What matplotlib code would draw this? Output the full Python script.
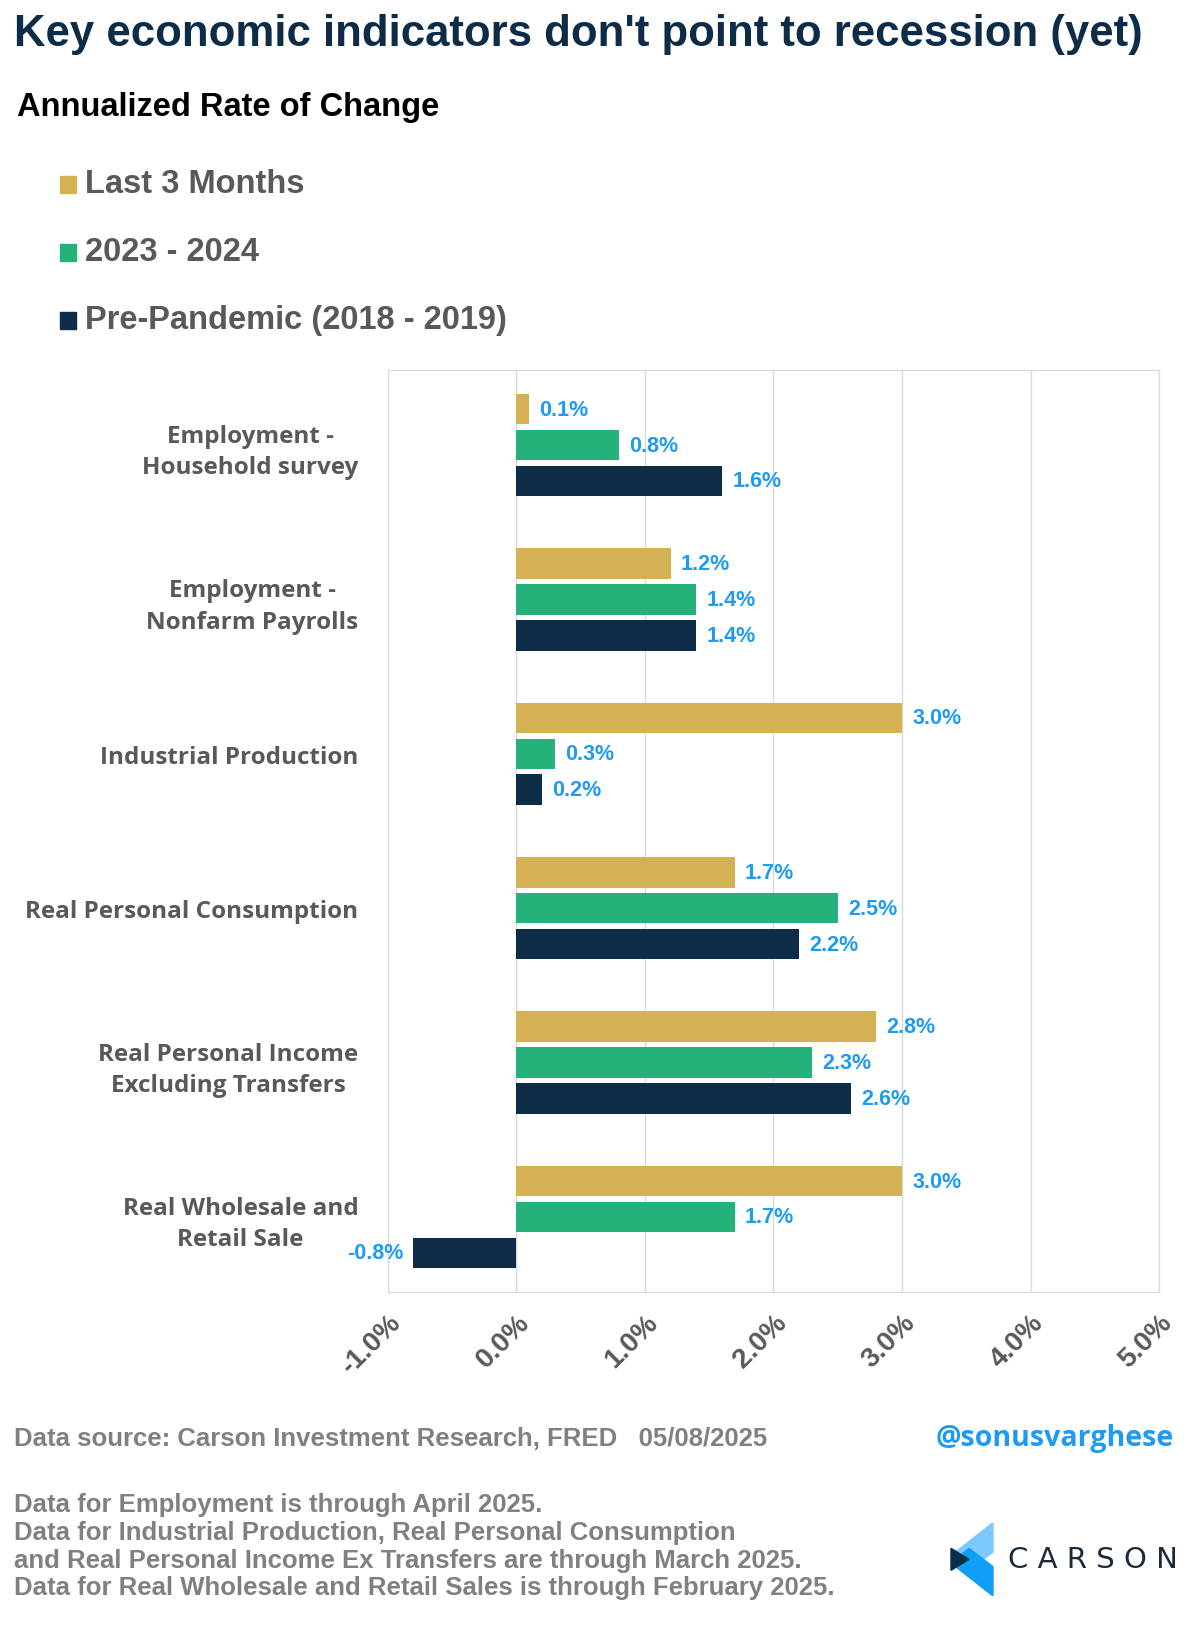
import matplotlib.pyplot as plt
from matplotlib.patches import Polygon
import numpy as np

categories = ["Employment -\nHousehold survey", "Employment -\nNonfarm Payrolls", "Industrial Production",
              "Real Personal Consumption", "Real Personal Income\nExcluding Transfers",
              "Real Wholesale and\nRetail Sale"]
last_3m = [0.1, 1.2, 3.0, 1.7, 2.8, 3.0]
y2023_24 = [0.8, 1.4, 0.3, 2.5, 2.3, 1.7]
pre_pandemic = [1.6, 1.4, 0.2, 2.2, 2.6, -0.8]
series_names = ["Last 3 Months", "2023 - 2024", "Pre-Pandemic (2018 - 2019)"]
xticks = [-1, 0, 1, 2, 3, 4, 5]

colors = ["#D4B254", "#25B27A", "#0D2C47"]
navy = "#0D2C47"
gray = "#595959"
blue = "#1E9BF0"
sans = "Liberation Sans"

fig = plt.figure(figsize=(12, 16.33), dpi=100)
ax = fig.add_axes([0.323, 0.208, 0.643, 0.565])

gap = 4.3
centers = np.arange(len(categories)) * gap
for k, vals in enumerate([last_3m, y2023_24, pre_pandemic]):
    ys = centers + (k - 1)
    ax.barh(ys, vals, height=0.85, color=colors[k], zorder=3)
    for y, v in zip(ys, vals):
        if v >= 0:
            ax.text(v + 0.08, y, f"{v:.1f}%", va="center", ha="left", color=blue,
                    fontsize=15.5, fontweight="bold", family=sans)
        else:
            ax.text(v - 0.08, y, f"{v:.1f}%", va="center", ha="right", color=blue,
                    fontsize=15.5, fontweight="bold", family=sans)

ax.set_xlim(-1, 5)
ax.set_ylim(centers[-1] + 2.1, centers[0] - 2.1)
ax.set_xticks(xticks)
ax.set_xticklabels([f"{t:.1f}%" for t in xticks], rotation=45, ha="right", rotation_mode="anchor",
                   fontsize=20, fontweight="bold", color=gray, family=sans)
ax.set_yticks(centers)
ax.set_yticklabels(categories, fontsize=17.5, fontweight="bold", color=gray, family="Open Sans",
                   ha="right", multialignment="center", linespacing=1.4)
ax.tick_params(axis="y", length=0, pad=21)
ax.tick_params(axis="x", length=0, pad=12)
ax.grid(axis="x", color="#D9D9D9", lw=1, zorder=0)
for s in ax.spines.values():
    s.set_color("#D9D9D9")

fig.text(0.012, 0.979, "Key economic indicators don't point to recession (yet)", fontsize=31.5,
         fontweight="bold", color=navy, family=sans, va="center")
fig.text(0.014, 0.934, "Annualized Rate of Change", fontsize=23.5, fontweight="bold", color="black",
         family=sans, va="center")
for k, name in enumerate(series_names):
    y = 0.887 - k * 0.0415
    fig.patches.append(plt.Rectangle((0.050, y - 0.006), 0.013, 0.0105, color=colors[k],
                                     transform=fig.transFigure, figure=fig))
    fig.text(0.071, y, name, fontsize=23.5, fontweight="bold", color=gray, family=sans, va="center")

fig.text(0.012, 0.119, "Data source: Carson Investment Research, FRED   05/08/2025", fontsize=18.5,
         fontweight="bold", color="#808080", family=sans, va="center")
fig.text(0.978, 0.119, "@sonusvarghese", fontsize=20.5, fontweight="bold", color=blue,
         family="Open Sans", va="center", ha="right")
fig.text(0.012, 0.02, "Data for Employment is through April 2025.\n"
         "Data for Industrial Production, Real Personal Consumption\n"
         "and Real Personal Income Ex Transfers are through March 2025.\n"
         "Data for Real Wholesale and Retail Sales is through February 2025.",
         fontsize=18.5, fontweight="bold", color="#808080", family=sans, va="bottom", linespacing=1.2)

# logo
la = fig.add_axes([0.79, 0.022, 0.05, 0.045])
la.set_xlim(0, 1); la.set_ylim(0, 1); la.axis("off")
la.add_patch(Polygon([[0.05, 0.55], [0.75, 1.0], [0.75, 0.6], [0.35, 0.35]], color="#7CC8FF"))
la.add_patch(Polygon([[0.05, 0.45], [0.75, 0.0], [0.75, 0.4], [0.35, 0.65]], color="#0FA0F5"))
la.add_patch(Polygon([[0.05, 0.65], [0.05, 0.35], [0.35, 0.5]], color=navy))
fig.text(0.84, 0.0445, "C A R S O N", fontsize=21, color="#1B2A3A", family="DejaVu Sans",
         va="center", ha="left")

fig.savefig("out.png", dpi=100, facecolor="white")
